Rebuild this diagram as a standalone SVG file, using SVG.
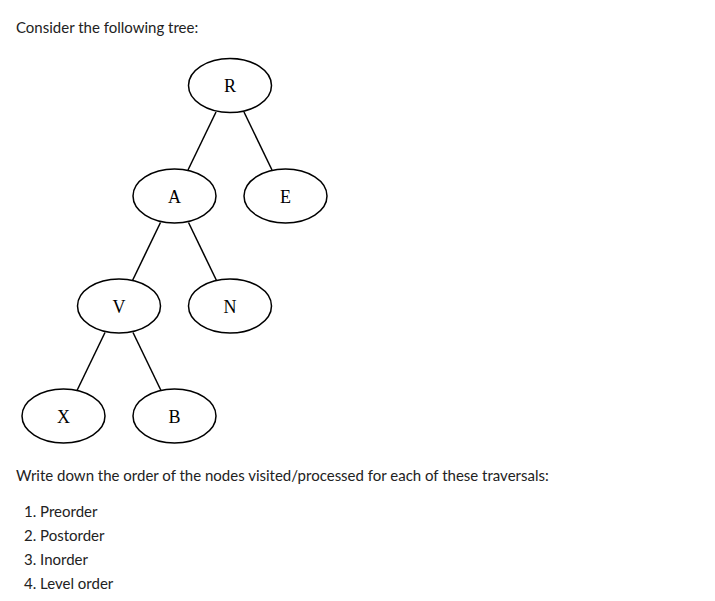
<svg xmlns="http://www.w3.org/2000/svg" width="715" height="601" viewBox="0 0 715 601">
<style>
.t{font-family:Lato,"Liberation Sans",sans-serif;font-size:15px;fill:#222}
.n ellipse{fill:#fff;stroke:#000;stroke-width:1.5}
.n text{font-family:"Liberation Serif",serif;font-size:18px;text-anchor:middle;fill:#000}
#edges line{stroke:#000;stroke-width:1.5}
</style>
<rect width="715" height="601" fill="#fff"/>
<text class="t" x="16" y="33">Consider the following tree:</text>
<g id="edges">
<line x1="216" y1="112" x2="188" y2="170"/>
<line x1="244" y1="112" x2="272" y2="170"/>
<line x1="160.5" y1="222.5" x2="132.5" y2="280.5"/>
<line x1="188.5" y1="222.5" x2="216.5" y2="280.5"/>
<line x1="105" y1="332.5" x2="77" y2="390.5"/>
<line x1="133" y1="332.5" x2="161" y2="390.5"/>
</g>
<g id="R" class="n"><ellipse cx="230" cy="85.5" rx="41.5" ry="27"/><text x="230" y="92">R</text></g>
<g id="A" class="n"><ellipse cx="174.5" cy="196" rx="41.5" ry="27"/><text x="174.5" y="202.5">A</text></g>
<g id="E" class="n"><ellipse cx="285.5" cy="196" rx="41.5" ry="27"/><text x="285.5" y="202.5">E</text></g>
<g id="V" class="n"><ellipse cx="119" cy="306" rx="41.5" ry="27"/><text x="119" y="312.5">V</text></g>
<g id="N" class="n"><ellipse cx="230" cy="306" rx="41.5" ry="27"/><text x="230" y="312.5">N</text></g>
<g id="X" class="n"><ellipse cx="63.5" cy="416" rx="41.5" ry="27"/><text x="63.5" y="422.5">X</text></g>
<g id="B" class="n"><ellipse cx="174.5" cy="416" rx="41.5" ry="27"/><text x="174.5" y="422.5">B</text></g>
<text class="t" x="16" y="481">Write down the order of the nodes visited/processed for each of these traversals:</text>
<text class="t" x="24" y="517">1. Preorder</text>
<text class="t" x="24" y="541">2. Postorder</text>
<text class="t" x="24" y="565">3. Inorder</text>
<text class="t" x="24" y="589">4. Level order</text>
</svg>
